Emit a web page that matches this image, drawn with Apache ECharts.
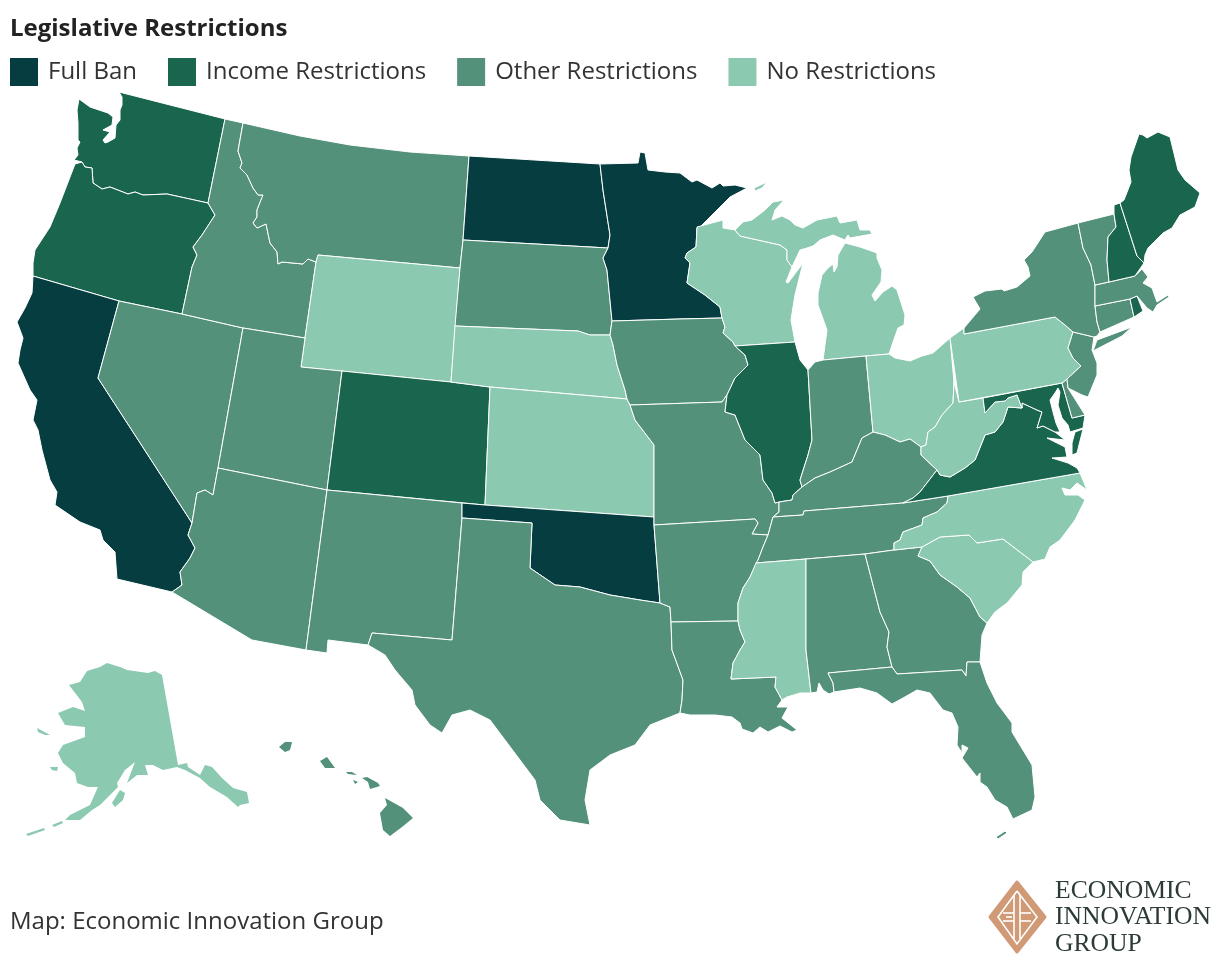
<!DOCTYPE html>
<html><head><meta charset="utf-8">
<style>html,body{margin:0;padding:0;background:#fff}#c{width:1220px;height:972px}</style>
<script src="https://cdn.jsdelivr.net/npm/echarts@6/dist/echarts.min.js"></script>
</head><body><div id="c"></div>
<script>
const titleText='Legislative Restrictions';
const sourceText='Map: Economic Innovation Group';
const logoLines=['ECONOMIC','INNOVATION','GROUP'];
const categories=['Full Ban','Income Restrictions','Other Restrictions','No Restrictions'];
const categoryColors=['#053d40','#1a654e','#53917a','#8bc9b1'];
const fullBan=['California','North Dakota','Minnesota','Oklahoma'];
const incomeRestrictions=['Washington','Oregon','Colorado','Illinois','Virginia','Maryland','Maine','New Hampshire','Rhode Island'];
const otherRestrictions=['Idaho','Montana','Nevada','Utah','Arizona','New Mexico','Texas','South Dakota','Iowa','Missouri','Arkansas','Louisiana','Alabama','Georgia','Florida','Tennessee','Kentucky','Indiana','New York','Vermont','Massachusetts','Connecticut','New Jersey','Delaware','Hawaii'];
const noRestrictions=['Wyoming','Nebraska','Kansas','Wisconsin','Michigan','Ohio','Pennsylvania','West Virginia','North Carolina','South Carolina','Mississippi','Alaska'];
const groups=[fullBan,incomeRestrictions,otherRestrictions,noRestrictions];
const borderlessStates=['Alaska','Hawaii'];

// Outlines of the states, traced in the picture's own plane (basemap geometry)
const outlines={
'Washington':['119,92 225,119 208,203 167,194 143,195 135,192 128,194 110,187 102,189 93,183 92,168 85,167 82,162 74,160 78,155 77,148 80,142 78,140 78,123 77,110 79,99 90,107 105,112 108,113 113,117 112,125 103,130 110,132 103,140 105,143 108,142 115,138 116,125 120,120 120,110 122,105 122,97'],
'Oregon':['75,164 82,162 85,167 92,168 93,183 102,189 110,187 128,194 135,192 143,195 167,194 208,203 215,215 202,235 193,247 197,255 192,267 182,314 119,301 33,276 33,263 35,250 50,227 60,203 70,177'],
'California':['33,276 119,301 98,378 192,523 188,535 195,548 190,558 180,572 182,585 172,592 117,579 115,552 103,540 100,530 80,522 55,505 57,492 50,480 42,450 38,430 33,420 37,400 30,390 18,363 20,350 23,338 17,322 25,308 32,293'],
'Nevada':['119,301 182,314 243,328 218,468 213,495 205,490 197,493 195,505 192,523 98,378'],
'Idaho':['225,119 243,123 238,151 242,163 240,168 247,175 253,188 258,195 263,195 257,210 257,217 253,223 257,228 266,224 270,243 277,252 278,264 282,262 303,264 308,259 316,262 305,338 243,328 182,314 192,267 197,255 193,247 202,235 215,215 208,203'],
'Montana':['243,123 300,136 350,145 410,152 469,156 463,240 460,268 318,255 316,262 308,259 303,264 282,262 278,264 277,252 270,243 266,224 257,228 253,223 257,217 257,210 263,195 258,195 253,188 247,175 240,168 242,163 238,151'],
'Wyoming':['318,255 460,268 451,382 301,367 305,338 316,262'],
'Utah':['243,328 305,338 301,367 342,371 327,490 218,468'],
'Colorado':['342,371 451,382 490,387 485,505 327,490'],
'Arizona':['218,468 327,490 306,650 252,640 172,592 182,585 180,572 190,558 195,548 188,535 192,523 195,505 197,493 205,490 213,495'],
'New Mexico':['327,490 462,503 462,518 452,640 372,633 368,645 328,640 327,653 306,650'],
'North Dakota':['469,156 600,164 603,190 610,235 608,248 463,240'],
'South Dakota':['463,240 608,248 603,258 607,270 612,321 610,335 600,335 590,335 578,331 455,326 460,268'],
'Nebraska':['455,326 578,331 590,335 600,335 610,335 613,345 617,365 625,390 627,399 490,387 451,382'],
'Kansas':['490,387 627,399 630,405 635,420 654,445 654,517 485,505'],
'Oklahoma':['462,503 485,505 654,517 654,525 660,603 640,600 610,595 580,587 555,585 530,568 532,523 462,518'],
'Texas':['462,518 532,523 530,568 555,585 580,587 610,595 640,600 660,603 670,607 671,622 672,650 683,680 682,700 680,713 650,725 635,745 610,755 590,770 585,800 590,825 560,820 540,800 535,780 520,760 505,740 490,720 470,710 452,715 442,733 430,725 415,705 412,690 395,670 385,655 368,645 372,633 452,640'],
'Minnesota':['600,164 638,163 640,152 645,153 648,170 665,172 680,173 692,182 697,180 712,188 720,183 723,186 735,185 747,188 730,197 700,227 697,228 696,247 687,253 685,258 690,263 687,283 705,295 720,307 722,318 680,319 612,321 607,270 603,258 608,248 610,235 603,190'],
'Iowa':['612,321 680,319 722,318 725,327 723,333 733,342 735,346 745,355 748,365 735,378 727,395 722,402 630,405 627,399 625,390 617,365 613,345 610,335'],
'Missouri':['630,405 722,402 727,395 725,412 735,415 745,440 760,455 763,480 772,493 775,503 779,502 779,512 773,517 768,535 752,534 758,523 755,519 654,525 654,445 635,420'],
'Arkansas':['654,525 755,519 758,523 752,534 768,535 763,547 758,560 750,577 743,588 738,603 738,621 671,622 670,607 660,603'],
'Louisiana':['671,622 738,621 740,630 745,642 740,650 733,663 731,679 776,677 775,687 782,700 777,707 788,707 782,718 797,730 792,732 780,726 768,732 760,727 753,733 742,729 740,723 732,717 715,715 690,715 680,713 682,700 683,680 672,650'],
'Wisconsin':['697,227 723,220 723,228 735,230 740,236 780,245 787,250 787,260 792,267 786,282 788,283 800,267 803,263 795,295 793,307 791,320 795,342 735,346 733,342 723,333 725,327 722,318 720,307 705,295 687,283 690,263 685,258 687,253 696,247'],
'Illinois':['735,346 795,342 800,360 808,370 812,440 808,455 800,480 802,487 793,495 792,500 779,502 775,503 772,493 763,480 760,455 745,440 735,415 725,412 727,395 735,378 748,365 745,355'],
'Michigan':['735,230 743,222 752,220 765,210 773,202 784,200 775,210 772,220 782,216 790,220 795,225 803,228 817,220 837,216 840,223 857,220 860,230 870,230 872,234 850,238 848,235 845,240 833,235 820,240 813,246 807,248 800,250 792,267 787,260 787,250 780,245 740,236','845,243 860,247 877,253 877,258 882,270 881,282 872,295 875,301 883,292 892,286 897,290 905,315 904,325 898,328 892,345 889,354 866,356 823,360 827,330 818,305 818,293 822,275 828,268 833,264 834,272 837,267 838,255','754,188 767,182 762,188 755,191'],
'Indiana':['808,370 815,362 823,360 866,356 873,432 862,438 852,462 830,472 815,478 802,487 800,480 808,455 812,440'],
'Ohio':['866,356 889,354 895,358 900,359 910,361 922,356 933,353 950,338 954,382 953,403 942,415 935,427 928,432 926,445 921,447 910,439 900,442 885,435 873,432'],
'Kentucky':['779,502 792,500 793,495 802,487 815,478 830,472 852,462 862,438 873,432 885,435 900,442 910,439 921,447 921,455 937,470 920,492 913,498 903,503 804,511 803,515 773,517 779,512'],
'Tennessee':['773,517 803,515 804,511 903,503 948,496 947,503 937,512 923,518 922,525 903,532 900,540 894,543 894,550 865,554 806,559 756,563 758,560 763,547 768,535'],
'Mississippi':['756,563 806,559 806,650 811,693 800,693 787,697 782,700 775,687 776,677 731,679 733,663 740,650 745,642 740,630 738,621 738,603 743,588 750,577'],
'Alabama':['806,559 865,554 880,612 889,632 887,647 892,667 828,673 833,683 834,692 829,694 823,690 819,683 817,692 811,693 806,650'],
'Georgia':['865,554 894,550 922,547 918,556 930,561 940,575 957,587 970,598 980,617 987,623 982,635 980,662 967,662 966,676 962,670 897,674 892,667 887,647 889,632 880,612'],
'Florida':['828,673 892,667 897,674 962,670 966,676 967,662 980,662 987,683 997,703 1012,723 1012,732 1032,765 1035,797 1032,810 1013,819 1007,807 995,800 987,787 980,782 980,773 977,777 962,758 968,748 962,745 962,753 957,745 958,727 952,713 943,710 930,693 917,690 903,698 892,704 877,693 860,688 834,692 833,683','996,837 1005,831 1007,833 998,839'],
'South Carolina':['922,547 940,537 969,535 977,543 1003,539 1033,562 1023,572 1022,585 1007,603 995,612 987,623 980,617 970,598 957,587 940,575 930,561 918,556'],
'North Carolina':['948,496 1080,473 1087,490 1077,483 1070,490 1062,488 1065,495 1078,495 1085,500 1075,520 1060,540 1050,547 1045,559 1033,562 1003,539 977,543 969,535 940,537 922,547 894,550 894,543 900,540 903,532 922,525 923,518 937,512 947,503'],
'Virginia':['903,503 913,498 920,492 937,470 940,475 950,477 965,468 975,460 985,435 995,432 1003,422 1008,407 1022,408 1022,403 1037,410 1042,412 1038,425 1037,428 1043,426 1055,432 1065,440 1047,438 1065,447 1067,457 1052,458 1068,463 1077,468 1080,473 948,496','1075,432 1083,429 1077,453 1072,455 1072,443'],
'West Virginia':['954,382 959,402 983,398 985,413 995,402 1005,401 1008,398 1017,395 1022,408 1008,407 1003,422 995,432 985,435 975,460 965,468 950,477 940,475 937,470 921,455 921,447 926,445 928,432 935,427 942,415 953,403'],
'Maryland':['983,398 1062,383 1072,418 1085,415 1083,428 1070,432 1068,425 1062,418 1058,405 1060,392 1058,388 1055,393 1050,400 1053,412 1056,423 1060,432 1055,432 1043,426 1037,428 1038,425 1042,412 1037,410 1022,403 1022,408 1017,395 1008,398 1005,401 995,402 985,413'],
'Delaware':['1062,383 1067,379 1068,388 1085,415 1072,418'],
'Pennsylvania':['950,338 964,328 964,334 1055,317 1065,325 1073,332 1068,348 1073,358 1081,366 1067,379 1062,383 959,402'],
'New Jersey':['1073,332 1094,337 1092,350 1097,363 1097,375 1088,397 1082,395 1068,388 1067,379 1081,366 1073,358 1068,348'],
'New York':['973,297 985,291 1002,289 1004,291 1017,287 1030,276 1028,267 1024,260 1032,252 1045,232 1078,223 1083,248 1091,265 1095,285 1095,306 1097,322 1100,332 1097,336 1094,337 1073,332 1065,325 1055,317 964,334 964,328 980,309','1097,340 1132,327 1122,336 1093,351'],
'Connecticut':['1095,306 1130,299 1134,317 1100,332 1097,322'],
'Rhode Island':['1130,299 1137,296 1143,311 1134,317'],
'Massachusetts':['1095,285 1109,282 1135,276 1142,269 1148,277 1143,283 1152,288 1157,302 1168,295 1169,297 1157,305 1153,312 1147,308 1137,296 1130,299 1095,306'],
'Vermont':['1078,223 1114,214 1116,227 1108,237 1107,260 1109,282 1095,285 1091,265 1083,248'],
'New Hampshire':['1114,205 1120,203 1137,256 1144,263 1135,276 1109,282 1107,260 1108,237 1116,227 1114,214'],
'Maine':['1120,203 1124,200 1131,182 1129,170 1131,157 1139,134 1143,135 1147,138 1158,132 1170,137 1178,170 1185,180 1200,193 1195,207 1180,215 1172,228 1163,233 1148,248 1145,255 1144,263 1137,256'],
'Alaska':['162,675 178,765 187,763 188,767 200,775 205,765 212,767 222,778 233,788 247,792 249,803 240,805 238,807 227,797 210,787 200,778 185,770 177,767 163,770 153,765 145,765 148,775 137,775 127,783 135,762 125,770 117,783 118,787 100,805 92,810 80,820 65,820 70,815 90,805 98,787 88,787 77,783 75,773 63,763 58,753 63,745 85,737 85,727 65,725 58,713 73,707 85,711 82,702 69,685 80,682 87,671 100,667 107,663 120,667 127,670 148,673 155,671','112,803 120,790 125,793 123,800 115,807','50,767 58,767 57,771 52,770','37,728 50,735 45,735 38,732','52,825 62,821 63,823 54,827','26,834 44,828 45,830 28,836'],
'Hawaii':['385,798 403,808 413,818 402,827 390,836 383,830 380,813 387,805','362,778 367,777 378,783 380,786 370,789 368,782','353,780 358,782 355,784','346,772 352,772 357,775 348,774','320,761 327,757 335,768 325,768','279,747 285,742 292,742 290,750 285,752']
};

const ring=s=>{const p=s.split(' ').map(q=>q.split(',').map(Number));p.push(p[0]);return p;};
const basemap={type:'FeatureCollection',features:Object.keys(outlines).map(name=>({
  type:'Feature',properties:{name},
  geometry:{type:'MultiPolygon',coordinates:outlines[name].map(s=>[ring(s)])}
}))};
echarts.registerMap('usStates',basemap);

const seriesData=[];
groups.forEach((g,i)=>g.forEach(name=>{
  const item={name,value:i};
  if(borderlessStates.includes(name)) item.itemStyle={borderWidth:0};
  seriesData.push(item);
}));

const chart=echarts.init(document.getElementById('c'),null,{renderer:'canvas'});
const font='"Open Sans"';
const L=(pts,w)=>({type:'polyline',shape:{points:pts},silent:true,style:{stroke:'#fff',fill:null,lineWidth:w||1.6}});
chart.setOption({
  animation:false,
  backgroundColor:'#fff',
  title:[
    {text:titleText,left:10,top:17,padding:0,textStyle:{fontFamily:font,fontWeight:'bold',fontSize:24,color:'#222'}},
    {text:sourceText,left:10,top:910,padding:0,textStyle:{fontFamily:font,fontWeight:'normal',fontSize:24,color:'#333'}}
  ],
  visualMap:{
    type:'piecewise',orient:'horizontal',left:10,top:58,padding:0,
    itemWidth:28,itemHeight:28,itemGap:31,textGap:10,itemSymbol:'rect',
    selectedMode:false,hoverLink:false,seriesIndex:0,
    pieces:categories.map((c,i)=>({value:i,label:c,color:categoryColors[i]})),
    textStyle:{fontFamily:font,fontSize:24,color:'#333'}
  },
  series:[{
    type:'map',map:'usStates',silent:true,roam:false,
    projection:{project:p=>[p[0],p[1]],unproject:p=>[p[0],p[1]]},
    boundingCoords:[[0,0],[1220,972]],
    left:0,top:0,width:1220,height:972,
    showLegendSymbol:false,
    label:{show:false},
    itemStyle:{borderColor:'#fff',borderWidth:1,areaColor:'#ccc'},
    emphasis:{disabled:true},select:{disabled:true},
    data:seriesData
  }],
  graphic:{elements:[
    {type:'polygon',silent:true,shape:{points:[[1017,882],[1045,917],[1017,952],[990,917]]},style:{fill:'#d19a77',stroke:'#d19a77',lineWidth:3,lineJoin:'round'}},
    L([[1017,891],[1037,917],[1017,944],[998,917],[1017,891]]),
    L([[1014,895],[1014,939]]),L([[1020,895],[1020,939]]),
    L([[1003,913],[1014,913]]),L([[1003,921],[1014,921]]),L([[1006,917],[1012,917]]),
    L([[1020,913],[1031,913]]),L([[1020,921],[1031,921]]),
    {type:'group',x:1055,y:0,scaleX:0.985,silent:true,children:logoLines.map((t,i)=>({
      type:'text',x:0,y:891+26.5*i,silent:true,
      style:{text:t,fontFamily:'"Liberation Serif"',fontSize:26,fill:'#2c3a38',textVerticalAlign:'middle',textBaseline:'middle'}
    }))}
  ]}
});
</script></body></html>
